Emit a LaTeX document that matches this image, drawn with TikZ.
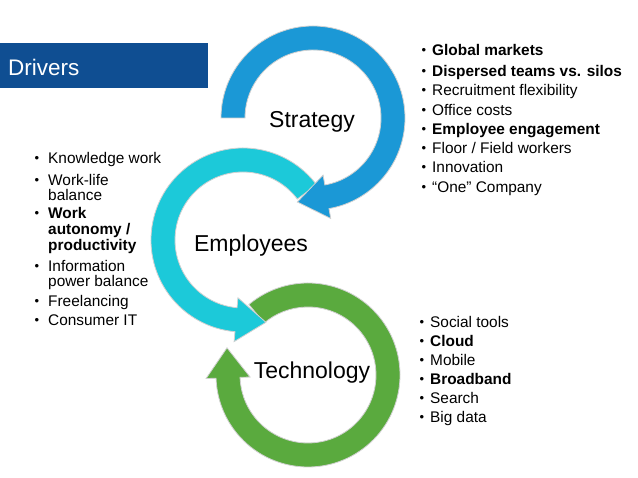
\documentclass[tikz,border=0pt]{standalone}
\usepackage{fontspec}
\setmainfont{Liberation Sans}
\usetikzlibrary{calc}
\definecolor{cblue}{HTML}{1B98D6}
\definecolor{ccyan}{HTML}{1CC9D9}
\definecolor{cgreen}{HTML}{5AAA3E}
\definecolor{cbox}{HTML}{0F4E92}
\tikzset{
  band/.style={draw=black!18, line width=0.8pt, line join=miter},
  txt/.style={anchor=west, inner sep=0pt, text height=10.5pt, text depth=3pt, font=\fontsize{15.4}{17}\selectfont},
  bul/.style={anchor=center, inner sep=0pt, font=\fontsize{13}{15}\selectfont},
  lbl/.style={inner sep=0pt, font=\fontsize{23}{25}\selectfont}
}
\newcommand\lin[4]{\node[txt] (#1) at (#2,476.5-#3) {#4};}
\newcommand\bl[3]{\node[bul] (#1) at (#2,477-#3) {•};}
\begin{document}
\begin{tikzpicture}[x=1pt,y=1pt]
\useasboundingbox (0,0) rectangle (638,478);
\fill[white] (0,0) rectangle (638,478);
% Drivers box
\node[fill=cbox, minimum width=208pt, minimum height=45pt, anchor=north west, inner sep=0pt] (box) at (0,478-43) {};
\node[anchor=west, text=white, inner sep=0pt, font=\fontsize{22.5}{24}\selectfont] (drv) at (8,478-67) {Drivers};
% centres
\coordinate (cb) at (313,360);
\coordinate (cc) at (243,238);
\coordinate (cg) at (308,103);
% green
\path[band, fill=cgreen] ($(cg)+(130:68)$) -- ($(cg)+(130:92)$) arc[start angle=130, end angle=-178, radius=92]
  -- ($(cg)+(-178:102)$) -- ($(cg)+(-178:80)+(92:30)$) -- ($(cg)+(-178:58)$) -- ($(cg)+(-178:68)$)
  arc[start angle=-178, end angle=130, radius=68] -- cycle;
% cyan
\path[band, fill=ccyan] ($(cc)+(37:68)$) -- ($(cc)+(37:92)$) arc[start angle=37, end angle=265, radius=92]
  -- ($(cc)+(265:102)$) -- ($(cc)+(265:80)+(355:30)$) -- ($(cc)+(265:58)$) -- ($(cc)+(265:68)$)
  arc[start angle=265, end angle=37, radius=68] -- cycle;
% blue
\path[band, fill=cblue] ($(cb)+(180:68)$) -- ($(cb)+(180:92)$) arc[start angle=180, end angle=-80, radius=92]
  -- ($(cb)+(-80:102)$) -- ($(cb)+(-80:80)+(-170:30)$) -- ($(cb)+(-80:58)$) -- ($(cb)+(-80:68)$)
  arc[start angle=-80, end angle=180, radius=68] -- cycle;
% labels
\node[lbl] (strat) at (312,478-122) {Strategy};
\node[lbl] (empl) at (251,478-246) {Employees};
\node[lbl] (tech) at (312,478-373) {Technology};
% right list
\bl{r1b}{424}{50}\lin{r1}{432}{50}{\textbf{Global markets}}
\bl{r2b}{424}{71}\lin{r2}{432}{71}{\textbf{Dispersed teams vs. silos}}
\bl{r3b}{424}{90}\lin{r3}{432}{90}{Recruitment flexibility}
\bl{r4b}{424}{110}\lin{r4}{432}{110}{Office costs}
\bl{r5b}{424}{129}\lin{r5}{432}{129}{\textbf{Employee engagement}}
\bl{r6b}{424}{148}\lin{r6}{432}{148}{Floor / Field workers}
\bl{r7b}{424}{167}\lin{r7}{432}{167}{Innovation}
\bl{r8b}{424}{187}\lin{r8}{432}{187}{“One” Company}
% bottom right list
\bl{t1b}{422}{322}\lin{t1}{430}{322}{Social tools}
\bl{t2b}{422}{341}\lin{t2}{430}{341}{\textbf{Cloud}}
\bl{t3b}{422}{360}\lin{t3}{430}{360}{Mobile}
\bl{t4b}{422}{379}\lin{t4}{430}{379}{\textbf{Broadband}}
\bl{t5b}{422}{398}\lin{t5}{430}{398}{Search}
\bl{t6b}{422}{417}\lin{t6}{430}{417}{Big data}
% left list
\bl{l1b}{37}{158}\lin{l1}{48}{158}{Knowledge work}
\bl{l2b}{37}{180}\lin{l2}{48}{180}{Work-life}
\lin{l2x}{48}{195}{balance}
\bl{l3b}{37}{213}\lin{l3}{48}{213}{\textbf{Work}}
\lin{l3x}{48}{229}{\textbf{autonomy /}}
\lin{l3y}{48}{245}{\textbf{productivity}}
\bl{l4b}{37}{266}\lin{l4}{48}{266}{Information}
\lin{l4x}{48}{281}{power balance}
\bl{l5b}{37}{301}\lin{l5}{48}{301}{Freelancing}
\bl{l6b}{37}{320}\lin{l6}{48}{320}{Consumer IT}
\end{tikzpicture}
\end{document}
